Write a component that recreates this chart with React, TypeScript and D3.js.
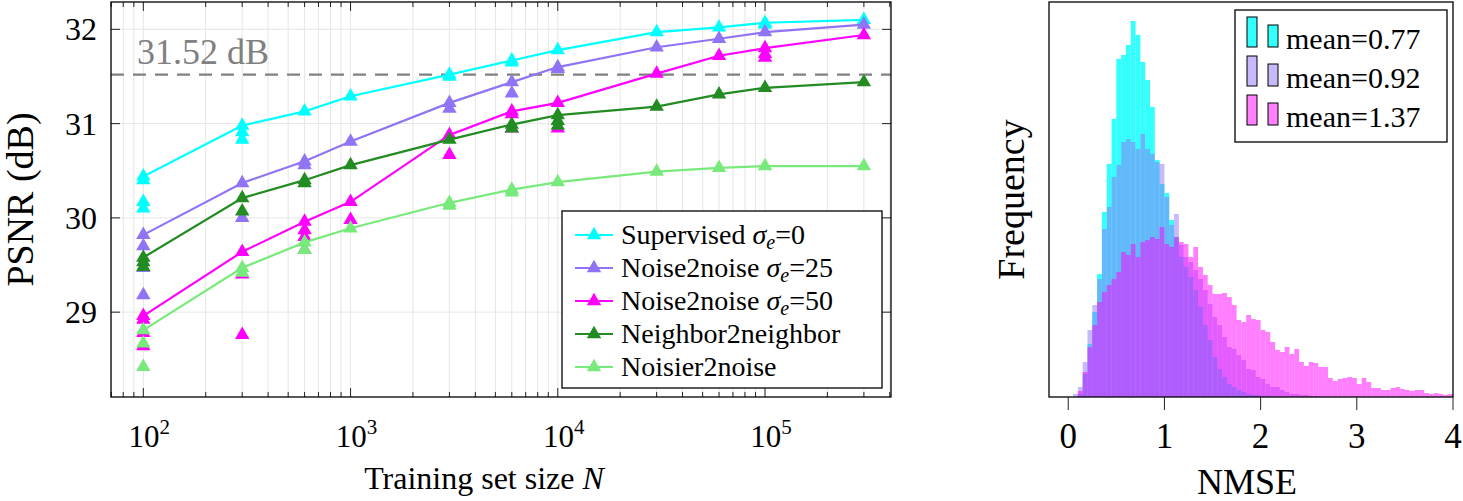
import React from 'react';
import * as d3 from 'd3';

const W = 1463;
const H = 501;
const FONT = '"Liberation Serif", "DejaVu Serif", serif';

// left panel: PSNR vs training set size
const SIZES = [100, 300, 600, 1000, 3000, 6000, 10000, 30000, 60000, 100000, 300000];
const SUPERVISED = [30.44, 30.98, 31.13, 31.29, 31.52, 31.67, 31.78, 31.97, 32.02, 32.07, 32.1];
const N2N_25 = [29.82, 30.37, 30.6, 30.81, 31.22, 31.44, 31.6, 31.81, 31.9, 31.97, 32.05];
const N2N_50 = [28.96, 29.64, 29.96, 30.17, 30.88, 31.13, 31.22, 31.53, 31.72, 31.8, 31.94];
const NB2NB = [29.58, 30.21, 30.4, 30.56, 30.83, 30.99, 31.09, 31.18, 31.31, 31.38, 31.44];
const NR2N = [28.81, 29.47, 29.74, 29.89, 30.16, 30.3, 30.38, 30.49, 30.53, 30.55, 30.55];

// individual runs shown as extra markers [N, PSNR]
const SUPERVISED_RUNS = [[100, 30.4], [100, 30.17], [100, 30.1], [300, 30.91], [300, 30.83], [3000, 31.5], [6000, 31.65], [100000, 32.05]];
const N2N_25_RUNS = [[100, 29.7], [100, 29.47], [100, 29.18], [300, 30.0], [600, 30.56], [3000, 31.16], [6000, 31.32], [10000, 31.58]];
const N2N_50_RUNS = [[100, 28.92], [100, 28.78], [100, 28.64], [300, 29.4], [300, 28.76], [600, 29.87], [600, 29.8], [600, 29.66],
  [1000, 29.98], [3000, 30.67], [6000, 31.1], [6000, 30.95], [10000, 30.95], [100000, 31.74], [100000, 31.7]];
const NB2NB_RUNS = [[100, 29.53], [100, 29.48], [300, 30.07], [600, 30.37], [6000, 30.95], [10000, 31.03], [10000, 30.98]];
const NR2N_RUNS = [[100, 28.67], [100, 28.42], [300, 29.42], [600, 29.66], [3000, 30.13], [6000, 30.27]];

const Y_TICKS = [29, 30, 31, 32];
const X_DECADES = [2, 3, 4, 5];
const REF_PSNR = 31.52;

// right panel: NMSE histograms, bin width 0.05 starting at 0
const BIN_WIDTH = 0.05;
const HIST_CYAN = [0, 0, 3, 23, 53, 85, 123, 185, 233, 278, 338, 342, 352, 376, 362, 335, 317, 290, 237, 213,
  204, 177, 160, 140, 130, 120, 107, 90, 72, 57, 40, 28, 20, 13, 10, 7, 5, 3, 2, 2, 1, 1];
const HIST_PURPLE = [0, 3, 10, 35, 67, 92, 118, 168, 190, 220, 232, 255, 258, 255, 248, 263, 248, 243, 235, 233,
  200, 172, 183, 152, 140, 135, 127, 118, 107, 93, 80, 72, 60, 50, 48, 42, 37, 28, 27, 20,
  18, 13, 10, 10, 7, 5, 3, 3, 2, 2, 1, 1];
const HIST_MAGENTA = [0, 0, 6, 25, 50, 72, 95, 105, 112, 118, 125, 145, 142, 153, 140, 155, 157, 160, 158, 170,
  153, 150, 160, 155, 153, 140, 150, 130, 122, 112, 103, 103, 104, 100, 92, 77, 75, 82, 78, 77,
  67, 65, 55, 47, 45, 50, 43, 48, 35, 31, 35, 34, 30, 30, 19, 16, 18, 19, 20, 19,
  13, 19, 15, 9, 9, 7, 7, 9, 10, 8, 7, 6, 7, 7, 4, 3, 4, 3, 2, 3];
const HIST_MEANS = ['0.77', '0.92', '1.37'];
const NMSE_TICKS = [0, 1, 2, 3, 4];

const C_CYAN = '#00ffff';
const C_PURPLE = '#9173f5';
const C_MAGENTA = '#ff00ff';
const C_GREEN = '#228b22';
const C_LGREEN = '#78ea7c';

const SERIES = [
  { name: 'Supervised', sigma: '0', color: C_CYAN, values: SUPERVISED, runs: SUPERVISED_RUNS },
  { name: 'Noise2noise', sigma: '25', color: C_PURPLE, values: N2N_25, runs: N2N_25_RUNS },
  { name: 'Noise2noise', sigma: '50', color: C_MAGENTA, values: N2N_50, runs: N2N_50_RUNS },
  { name: 'Neighbor2neighbor', sigma: null, color: C_GREEN, values: NB2NB, runs: NB2NB_RUNS },
  { name: 'Noisier2noise', sigma: null, color: C_LGREEN, values: NR2N, runs: NR2N_RUNS },
];

const HISTS = [
  { counts: HIST_CYAN, color: C_CYAN, opacity: 0.8 },
  { counts: HIST_PURPLE, color: C_PURPLE, opacity: 0.5 },
  { counts: HIST_MAGENTA, color: C_MAGENTA, opacity: 0.5 },
];

const tri = d3.symbol(d3.symbolTriangle, 90)();

function LeftPanel() {
  const L = 111, R = 891, T = 2, B = 397;
  const x = d3.scaleLog().domain([Math.pow(10, 1.844), Math.pow(10, 5.608)]).range([L, R]);
  const y = d3.scaleLinear().domain([28.1, 32.29]).range([B, T]);
  const [d0, d1] = x.domain();
  const minor = x.ticks().filter(v => v >= d0 && v <= d1);
  const line = d3.line<number>().x((_, i) => x(SIZES[i])).y(v => y(v));
  const isMajor = (v: number) => Math.abs(Math.log10(v) - Math.round(Math.log10(v))) < 1e-9;

  return (
    <g>
      {minor.map(v => (
        <line key={'gx' + v} x1={x(v)} x2={x(v)} y1={T} y2={B} stroke="#e6e6e6" strokeWidth={1} />
      ))}
      {Y_TICKS.map(v => (
        <line key={'gy' + v} x1={L} x2={R} y1={y(v)} y2={y(v)} stroke="#e6e6e6" strokeWidth={1} />
      ))}
      <line x1={L} x2={R} y1={y(REF_PSNR)} y2={y(REF_PSNR)} stroke="#808080" strokeWidth={2.4} strokeDasharray="13 9" />
      <text x={137} y={64} fontFamily={FONT} fontSize={36} fill="#808080">{REF_PSNR.toFixed(2)} dB</text>

      {SERIES.map(s => (
        <g key={s.name + s.sigma}>
          <path d={line(s.values) || ''} fill="none" stroke={s.color} strokeWidth={2.2} />
          {s.runs.map((r, i) => (
            <path key={'r' + i} d={tri} transform={`translate(${x(r[0])},${y(r[1])})`} fill={s.color} />
          ))}
          {s.values.map((v, i) => (
            <path key={'m' + i} d={tri} transform={`translate(${x(SIZES[i])},${y(v)})`} fill={s.color} />
          ))}
        </g>
      ))}

      {/* ticks */}
      {minor.map(v => {
        const len = isMajor(v) ? 9 : 5;
        return (
          <g key={'t' + v}>
            <line x1={x(v)} x2={x(v)} y1={B} y2={B - len} stroke="#222" strokeWidth={1} />
            <line x1={x(v)} x2={x(v)} y1={T} y2={T + len} stroke="#222" strokeWidth={1} />
          </g>
        );
      })}
      {Y_TICKS.map(v => (
        <g key={'yt' + v}>
          <line x1={L} x2={L + 9} y1={y(v)} y2={y(v)} stroke="#222" strokeWidth={1} />
          <line x1={R} x2={R - 9} y1={y(v)} y2={y(v)} stroke="#222" strokeWidth={1} />
          <text x={97} y={y(v) + 11} textAnchor="end" fontFamily={FONT} fontSize={32}>{v}</text>
        </g>
      ))}
      {X_DECADES.map(k => (
        <text key={'xl' + k} x={x(Math.pow(10, k)) + 6} y={447} textAnchor="middle" fontFamily={FONT} fontSize={31}>
          10<tspan dy={-13} fontSize={21}>{k}</tspan>
        </text>
      ))}
      <rect x={L} y={T} width={R - L} height={B - T} fill="none" stroke="#000" strokeWidth={1.3} />

      <text x={484} y={489} textAnchor="middle" fontFamily={FONT} fontSize={32}>
        Training set size <tspan fontStyle="italic">N</tspan>
      </text>
      <text transform={`translate(33,${(T + B) / 2}) rotate(-90)`} textAnchor="middle" fontFamily={FONT} fontSize={38}>
        PSNR (dB)
      </text>

      {/* legend */}
      <rect x={562} y={211} width={320} height={177} fill="#fff" stroke="#000" strokeWidth={1.3} />
      {SERIES.map((s, i) => {
        const cy = 235 + i * 33;
        return (
          <g key={'lg' + i}>
            <line x1={575} x2={613} y1={cy} y2={cy} stroke={s.color} strokeWidth={2.2} />
            <path d={tri} transform={`translate(594,${cy})`} fill={s.color} />
            <text x={621} y={cy + 9} fontFamily={FONT} fontSize={28}>
              {s.name}
              {s.sigma !== null && (
                <>
                  <tspan fontStyle="italic"> σ</tspan>
                  <tspan fontStyle="italic" fontSize={20} dy={5}>e</tspan>
                  <tspan dy={-5}>={s.sigma}</tspan>
                </>
              )}
            </text>
          </g>
        );
      })}
    </g>
  );
}

function RightPanel() {
  const L = 1049, R = 1453, T = 2, B = 397;
  const x = d3.scaleLinear().domain([-0.2, 4]).range([L, R]);
  const y = d3.scaleLinear().domain([0, 395]).range([B, T]);

  return (
    <g>
      {HISTS.map((h, k) => (
        <g key={'h' + k} fill={h.color} fillOpacity={h.opacity}>
          {h.counts.map((c, i) => c > 0 && (
            <rect key={i} x={x(i * BIN_WIDTH)} width={x((i + 1) * BIN_WIDTH) - x(i * BIN_WIDTH)} y={y(c)} height={B - y(c)} />
          ))}
        </g>
      ))}
      <rect x={L} y={T} width={R - L} height={B - T} fill="none" stroke="#000" strokeWidth={1.3} />
      {NMSE_TICKS.map(v => (
        <g key={'xt' + v}>
          <line x1={x(v)} x2={x(v)} y1={B} y2={B + 13} stroke="#222" strokeWidth={1} />
          <text x={x(v)} y={448} textAnchor="middle" fontFamily={FONT} fontSize={35}>{v}</text>
        </g>
      ))}
      <text x={1247} y={494} textAnchor="middle" fontFamily={FONT} fontSize={36}>NMSE</text>
      <text transform={`translate(1024,${(T + B) / 2}) rotate(-90)`} textAnchor="middle" fontFamily={FONT} fontSize={38}>
        Frequency
      </text>

      {/* legend */}
      <rect x={1235} y={10} width={212} height={132} fill="#fff" stroke="#000" strokeWidth={1.3} />
      {HISTS.map((h, i) => {
        const top = 17 + i * 39;
        return (
          <g key={'hl' + i}>
            <rect x={1247} y={top} width={10} height={30} fill={h.color} fillOpacity={h.opacity} stroke="#000" strokeWidth={1} />
            <rect x={1268} y={top + 8} width={10} height={22} fill={h.color} fillOpacity={h.opacity} stroke="#000" strokeWidth={1} />
            <text x={1286} y={top + 32} fontFamily={FONT} fontSize={30}>mean={HIST_MEANS[i]}</text>
          </g>
        );
      })}
    </g>
  );
}

export default function App() {
  return (
    <svg width={W} height={H} viewBox={`0 0 ${W} ${H}`} style={{ position: 'absolute', left: 0, top: 0, background: '#fff' }}>
      <rect width={W} height={H} fill="#fff" />
      <LeftPanel />
      <RightPanel />
    </svg>
  );
}
